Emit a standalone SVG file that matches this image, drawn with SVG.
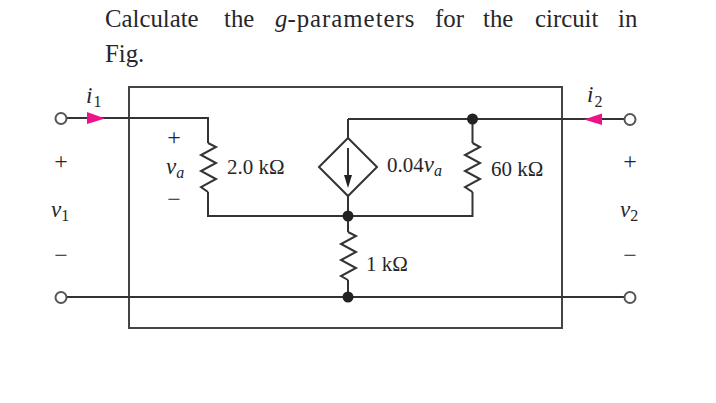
<svg xmlns="http://www.w3.org/2000/svg" width="716" height="403" viewBox="0 0 716 403">
<style>
text{font-family:"Liberation Serif","Times New Roman",serif;fill:#26262b}
.t{font-size:24.8px}
.l{font-size:21px}
.s{font-size:16px}
.v{font-size:23px;font-style:italic}
.p{font-size:24px;text-anchor:middle}
.i{font-style:italic}
.n{font-style:normal}
.w{fill:none;stroke:#333;stroke-width:2}
.f{fill:none;stroke:#444;stroke-width:2}
.c{fill:#fff;stroke:#555;stroke-width:2}
.d{fill:#222}
.m{fill:#ee1289}
</style>
<rect width="716" height="403" fill="#fff"/>
<text class="t"><tspan x="105" y="27">Calculate</tspan><tspan x="224" y="27">the</tspan><tspan x="275" y="27" class="i">g</tspan><tspan letter-spacing="1">-parameters</tspan><tspan x="435" y="27">for</tspan><tspan x="483" y="27">the</tspan><tspan x="535" y="27">circuit</tspan><tspan x="618" y="27">in</tspan><tspan x="105" y="62">Fig.</tspan></text>
<rect id="frame" class="f" x="129" y="87" width="433" height="241"/>
<g id="connectors">
<path class="w" d="M67 118H208V143M208 192V216H472.5V192M472.5 143V119M348 119H624M348 119V138M348 196V232M348 280V297M67 297H624"/>
</g>
<g id="r1"><path class="w" d="M208 143L216 147L201 155L216 163L201 171L216 179L201 187L208 192"/><text class="l" x="227" y="174">2.0 kΩ</text></g>
<g id="r2"><path class="w" d="M472.5 143L480 147L465 155L480 163L465 171L480 179L465 187L472.5 192"/><text class="l" x="491" y="176">60 kΩ</text></g>
<g id="r3"><path class="w" d="M348 232L356 236L341 244L356 252L341 260L356 268L341 276L348 280"/><text class="l" x="366" y="271">1 kΩ</text></g>
<g id="source"><path class="w" d="M348 138L377 167L348 196L319 167Z"/><path class="w" d="M348 148V176"/><path class="d" d="M344 175H352L348 188Z"/><text class="l" x="387" y="172">0.04<tspan class="v">v</tspan><tspan class="i s" dy="4">a</tspan></text></g>
<g id="nodes"><circle class="d" cx="472.5" cy="119" r="5.500"/><circle class="d" cx="348" cy="216" r="5.500"/><circle class="d" cx="348" cy="297" r="5.500"/></g>
<g id="port1"><circle class="c" cx="61" cy="118.500" r="5.500"/><circle class="c" cx="61" cy="297.500" r="5.500"/><path class="m" d="M87 112L105 118.500L87 124Z"/>
<text class="v" x="86" y="103">i<tspan class="s n" dy="4" dx="1">1</tspan></text>
<text class="p" x="61" y="169">+</text><text class="v" x="51" y="217">v<tspan class="s n" dy="4">1</tspan></text><text class="p" x="61" y="263">−</text></g>
<g id="port2"><circle class="c" cx="630" cy="119.500" r="5.500"/><circle class="c" cx="630" cy="297.500" r="5.500"/><path class="m" d="M602 113.500L584 119.500L602 125Z"/>
<text class="v" x="587" y="102">i<tspan class="s n" dy="5" dx="1">2</tspan></text>
<text class="p" x="630" y="169">+</text><text class="v" x="620" y="217">v<tspan class="s n" dy="4">2</tspan></text><text class="p" x="630" y="263">−</text></g>
<g id="va"><text class="p" x="174" y="145">+</text><text class="v" x="166" y="174">v<tspan class="i s" dy="4">a</tspan></text><text class="p" x="174" y="207">−</text></g>
</svg>
